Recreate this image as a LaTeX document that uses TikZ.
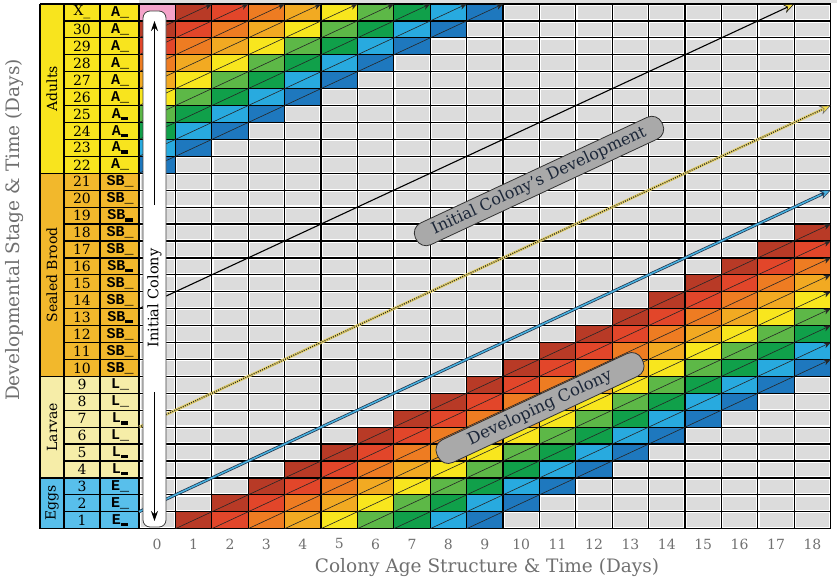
\documentclass[tikz,border=0pt]{standalone}
\usepackage{fontspec}
\setmainfont{DejaVu Serif}
\setmonofont{Liberation Mono}
\usetikzlibrary{arrows.meta}

\definecolor{c0}{HTML}{B83A26}
\definecolor{c1}{HTML}{E2462A}
\definecolor{c2}{HTML}{EE7C22}
\definecolor{c3}{HTML}{F2AA22}
\definecolor{c4}{HTML}{F8E61E}
\definecolor{c5}{HTML}{5DB847}
\definecolor{c6}{HTML}{10A04A}
\definecolor{c7}{HTML}{28AADF}
\definecolor{c8}{HTML}{1E78BE}
\definecolor{pinkc}{HTML}{F4A3C9}
\definecolor{cellgrey}{HTML}{DCDCDC}
\definecolor{adultc}{HTML}{F8E41E}
\definecolor{sbc}{HTML}{F2B82C}
\definecolor{larvc}{HTML}{F6EDA8}
\definecolor{eggc}{HTML}{58BFEB}
\definecolor{axisgrey}{HTML}{707070}
\definecolor{pillgrey}{HTML}{A9A9A9}
\definecolor{pilltext}{HTML}{1B2638}
\definecolor{ropeyellow}{HTML}{E2CF6A}
\definecolor{arrowyellow}{HTML}{F3DC4A}
\definecolor{skyblue}{HTML}{49B3E0}
\definecolor{navyline}{HTML}{1E3550}

\newcommand{\thk}{\rule[-0.12em]{0.5em}{0.22em}}

\begin{document}
\begin{tikzpicture}[x=1pt,y=1pt,
  gridline/.style={line width=1.2pt, black},
  cohort/.style={line width=0.6pt, draw=black!85, -{Stealth[length=7pt,width=6pt]}},
  numlab/.style={font=\fontsize{14}{14}\selectfont, inner sep=0pt},
  codelab/.style={font=\ttfamily\bfseries\fontsize{15}{15}\selectfont, inner sep=0pt},
  catlab/.style={rotate=90, font=\fontsize{14}{14}\selectfont, inner sep=0pt},
  axnum/.style={font=\fontsize{14}{14}\selectfont, text=axisgrey, inner sep=0pt},
  axtitle/.style={font=\fontsize{18.5}{18.5}\selectfont, text=axisgrey, inner sep=0pt},
  pill/.style={draw=black!80, line width=0.8pt, fill=pillgrey, rounded corners=11pt,
    text=pilltext, inner sep=0pt, rotate=25},
  bigblack/.style={line width=1.1pt, black, -{Stealth[length=11pt,width=9pt,fill=arrowyellow,line width=0.5pt]}},
  bigyellow/.style={line width=2.8pt, ropeyellow, -{Stealth[length=11pt,width=9pt,fill=arrowyellow,color=black!60,line width=0.5pt]}},
  bigblue/.style={line width=3pt, navyline, -{Stealth[length=11pt,width=9pt,fill=skyblue,color=navyline,line width=0.5pt]}},
]
\useasboundingbox (0,0) rectangle (837,-580);
\fill[white] (0,0) rectangle (837,-580);
\fill[black!12] (139,0) rectangle (837,-3.5);

\begin{scope}[xshift=139pt,yshift=-528.7pt,x=36.4pt,y=16.925pt]
  % ---- label columns ----
  \fill[adultc] (-2.72,21) rectangle (0,31);
  \fill[sbc]    (-2.72,9)  rectangle (0,21);
  \fill[larvc]  (-2.72,3)  rectangle (0,9);
  \fill[eggc]   (-2.72,0)  rectangle (0,3);
  \foreach \r in {0,...,31} \draw[gridline] (-2.06,\r) -- (0,\r);
  \foreach \r in {0,3,9,21,31} \draw[gridline] (-2.72,\r) -- (-2.06,\r);
  \foreach \x in {-2.72,-2.06,-1.071} \draw[gridline] (\x,0) -- (\x,31);

  \node[catlab] (catA) at (-2.39,26)  {Adults};
  \node[catlab] (catS) at (-2.39,15)  {Sealed Brood};
  \node[catlab] (catL) at (-2.39,6)   {Larvae};
  \node[catlab] (catE) at (-2.39,1.5) {Eggs};

  \foreach \r in {1,...,30} \node[numlab] (n\r) at (-1.566,\r-0.5) {\r};
  \node[numlab] (n31) at (-1.566,30.5) {X\_};

  \foreach \r/\t in {31/A\_,30/A\_,29/A\_,28/A\_,27/A\_,26/A\_,25/A\thk,24/A\thk,23/A\thk,22/A\_,
     21/SB\_,20/SB\_,19/SB\thk,18/SB\_,17/SB\_,16/SB\thk,15/SB\_,14/SB\_,13/SB\thk,12/SB\_,11/SB\_,10/SB\_,
     9/L\_,8/L\_,7/L\thk,6/L\_,5/L\thk,4/L\thk,3/E\_,2/E\_,1/E\thk}
     \node[codelab] (k\r) at (-0.52,\r-0.5) {\t};

  % ---- data cells ----
  \foreach \d in {0,...,18}{
    \foreach \r in {1,...,31}{
      \pgfmathtruncatemacro\lo{\d-\r}
      \pgfmathtruncatemacro\up{30-\r+\d}
      \def\ci{-1}
      \ifnum\d>0 \ifnum\lo>-1 \ifnum\lo<9 \let\ci\lo \fi\fi\fi
      \ifnum\r>21 \ifnum\up>-1 \ifnum\up<9 \let\ci\up \fi\fi\fi
      \ifnum\ci<0
        \fill[cellgrey] ([xshift=1.7pt,yshift=1.7pt]\d,\r-1) rectangle ([xshift=-1.7pt,yshift=-1.7pt]\d+1,\r);
      \else
        \fill[c\ci] (\d,\r-1) rectangle (\d+1,\r);
      \fi
    }
  }
  \fill[pinkc] (0,30) rectangle (1,31);

  \foreach \r in {0,...,31} \draw[gridline] (0,\r) -- (19,\r);
  \foreach \d in {0,...,19} \draw[gridline] (\d,0) -- (\d,31);

  % ---- cohort arrows ----
  \foreach \c in {1,...,9} \draw[cohort] (\c,0) -- (19,19-\c);
  \foreach \i in {0,...,8} \draw[cohort] (0,29-\i) -- (\i+2,31);

  % ---- big development lines ----
  \coordinate (bkS) at (0,13); \coordinate (bkE) at (18,31);
  \coordinate (ylS) at (0,6);  \coordinate (ylE) at (19,25);
  \coordinate (blS) at (0,1);  \coordinate (blE) at (19,20);
  \draw[bigblack] (bkS) -- (bkE);
  \draw[bigyellow] (ylS) -- (ylE);
  \draw[line width=1.3pt, black!85, dash pattern=on 0.9pt off 1.4pt, shorten >=10pt] (ylS) -- (ylE);
  \draw[bigblue] (blS) -- (blE);
  \draw[line width=1.5pt, skyblue, shorten >=10pt] (blS) -- (blE);

  % ---- axis numbers ----
  \foreach \d in {0,...,18} \node[axnum] (ax\d) at (\d+0.5,-0.9) {\d};
\end{scope}

% ---- initial colony bar ----
\node[draw=black!75, line width=0.8pt, fill=white, rounded corners=7pt,
      minimum width=23pt, minimum height=516pt, inner sep=0pt] (bar) at (154.5,-269) {};
\coordinate (barT) at (154.5,-21);
\coordinate (barB) at (154.5,-521);
\coordinate (barU) at (154.5,-205);
\coordinate (barD) at (154.5,-392);
\draw[line width=0.9pt, -{Stealth[length=10pt,width=7pt]}] (barU) -- (barT);
\draw[line width=0.9pt, -{Stealth[length=10pt,width=7pt]}] (barD) -- (barB);
\node[rotate=90, font=\fontsize{14.5}{14.5}\selectfont, inner sep=0pt] (initc) at (154.5,-298) {Initial Colony};

% ---- callout pills ----
\node[pill, minimum width=272pt, minimum height=24pt, font=\fontsize{16}{16}\selectfont] (pillA) at (539,-181) {Initial Colony's Development};
\node[pill, minimum width=226pt, minimum height=25pt, font=\fontsize{16.5}{16.5}\selectfont] (pillB) at (540,-408) {Developing Colony};

% ---- axis titles ----
\node[axtitle, rotate=90] (ytitle) at (15,-230) {Developmental Stage \& Time (Days)};
\node[axtitle] (xtitle) at (487,-568) {Colony Age Structure \& Time (Days)};
\end{tikzpicture}
\end{document}
